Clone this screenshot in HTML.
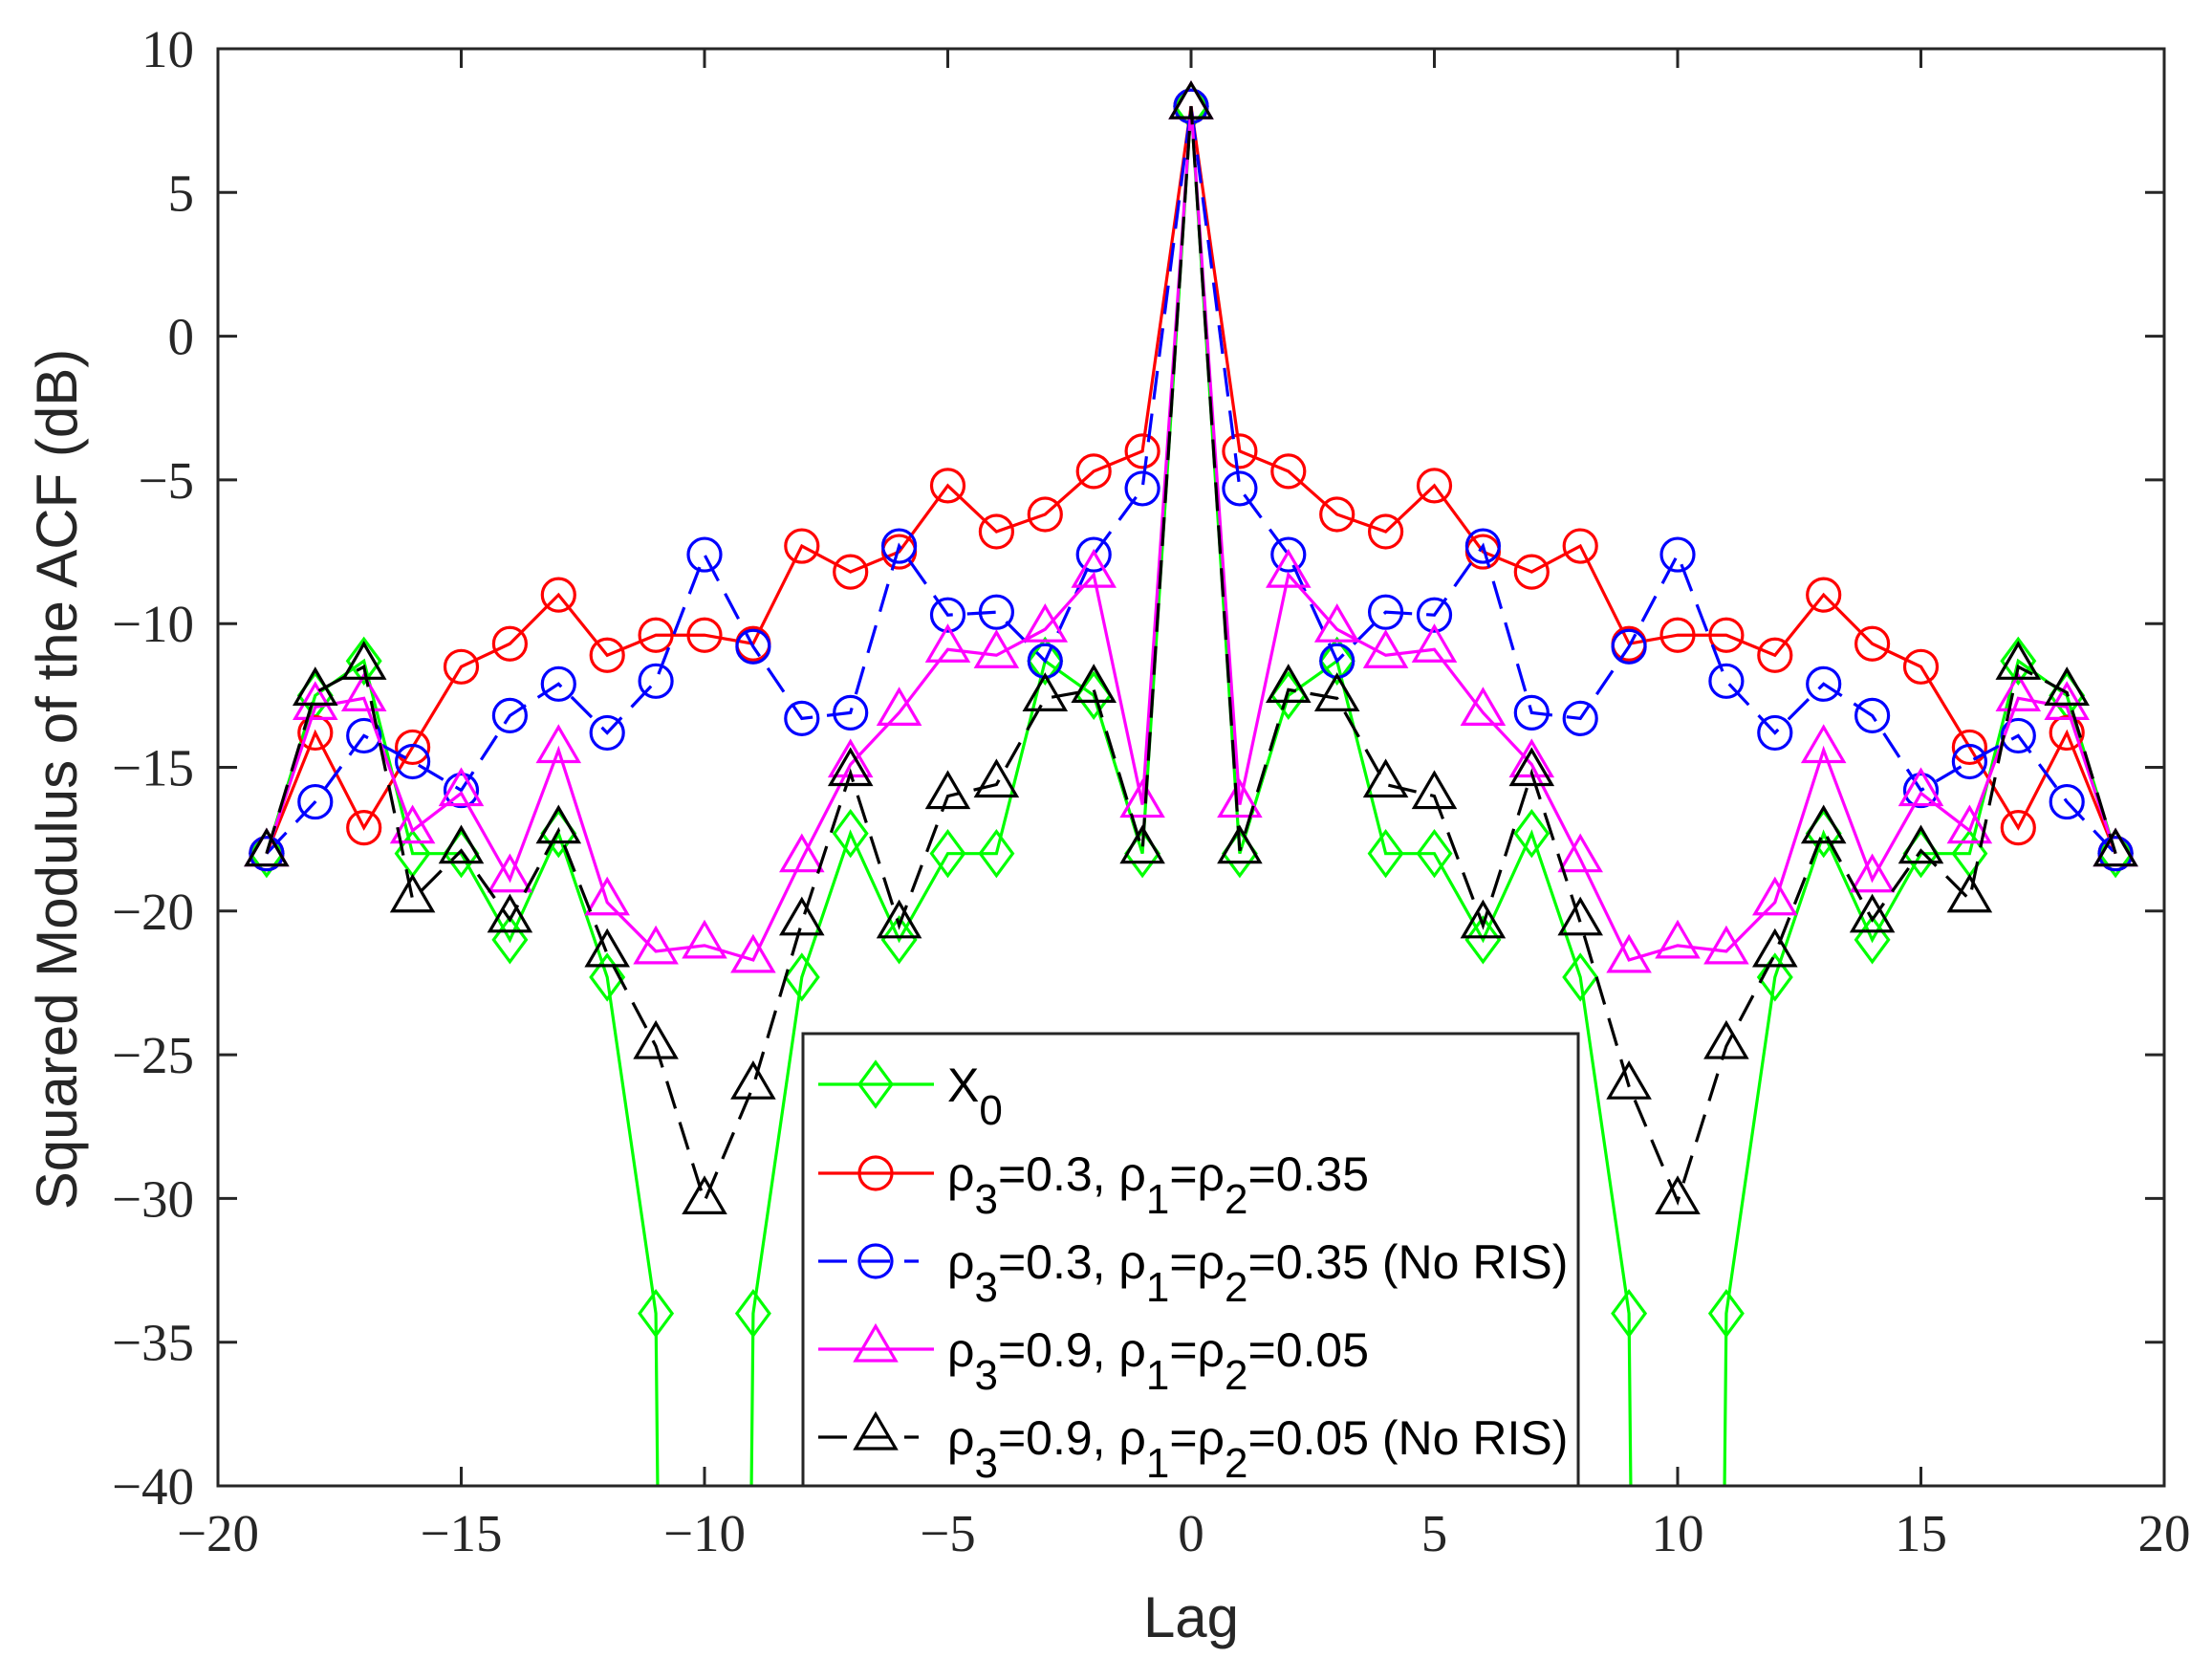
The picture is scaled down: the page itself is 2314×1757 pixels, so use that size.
<!DOCTYPE html>
<html><head><meta charset="utf-8"><style>html,body{margin:0;background:#fff;width:2314px;height:1757px;overflow:hidden}svg{display:block}</style></head>
<body>
<svg id="s" width="2314" height="1757" xmlns="http://www.w3.org/2000/svg"></svg>
<script>
const L=228,R=2264,T=51,B=1554;
const X=v=>L+(v+20)*(R-L)/40, Y=v=>T+(10-v)*(B-T)/50;
const G={
g:[8,-18,-12.5,-11.3,-18,-18,-21,-17.3,-22.3,-34,-200,-34,-22.3,-17.3,-21,-18,-18,-11.3,-12.5,-18],
r:[8,-4,-4.7,-6.2,-6.8,-5.2,-7.5,-8.2,-7.3,-10.7,-10.4,-10.4,-11.1,-9,-10.7,-11.5,-14.3,-17.1,-13.8,-18],
b:[8,-5.3,-7.6,-11.3,-9.6,-9.7,-7.3,-13.1,-13.3,-10.8,-7.6,-12,-13.8,-12.1,-13.2,-15.8,-14.8,-13.9,-16.2,-18],
m:[8,-16.3,-8.3,-10.2,-11.1,-10.9,-13.1,-14.9,-18.2,-21.7,-21.2,-21.4,-19.7,-14.4,-18.9,-15.9,-17.2,-12.6,-12.9,-18],
k:[8,-17.9,-12.3,-12.6,-15.6,-16,-20.5,-15.2,-20.4,-26.1,-30.1,-24.7,-21.5,-17.2,-20.3,-17.9,-19.6,-11.5,-12.4,-18]};
let h='<defs><clipPath id="c"><rect x="'+L+'" y="'+T+'" width="'+(R-L)+'" height="'+(B-T)+'"/></clipPath></defs>';
const ax='#262626';
for(let v=-20;v<=20;v+=5){const x=X(v);h+=`<line x1="${x}" y1="${B}" x2="${x}" y2="${B-20}" stroke="${ax}" stroke-width="3"/><line x1="${x}" y1="${T}" x2="${x}" y2="${T+20}" stroke="${ax}" stroke-width="3"/>`;
h+=`<text x="${x}" y="1622" font-family="Liberation Serif,serif" font-size="55" text-anchor="middle" fill="${ax}">${v<0?'−'+(-v):v}</text>`;}
for(let v=-40;v<=10;v+=5){const y=Y(v);h+=`<line x1="${L}" y1="${y}" x2="${L+20}" y2="${y}" stroke="${ax}" stroke-width="3"/><line x1="${R}" y1="${y}" x2="${R-20}" y2="${y}" stroke="${ax}" stroke-width="3"/>`;
h+=`<text x="203" y="${y+19}" font-family="Liberation Serif,serif" font-size="55" text-anchor="end" fill="${ax}">${v<0?'−'+(-v):v}</text>`;}
function mk(t,x,y,c){
 if(t=='d')return `<path d="M${x} ${y-23}L${x+17} ${y}L${x} ${y+23}L${x-17} ${y}Z" fill="none" stroke="${c}" stroke-width="3.2"/>`;
 if(t=='o')return `<circle cx="${x}" cy="${y}" r="17" fill="none" stroke="${c}" stroke-width="3.2"/>`;
 return `<path d="M${x} ${y-24}L${x+21} ${y+12}L${x-21} ${y+12}Z" fill="none" stroke="${c}" stroke-width="3.2"/>`;}
const S=[['g','#00ff00','d',0],['r','#ff0000','o',0],['b','#0000ff','o',1],['m','#ff00ff','t',0],['k','#000000','t',1]];
const lags=[];for(let i=-19;i<=19;i++)lags.push(i);
let body='';
for(const [k,c,t,d] of S){
 const p=lags.map(l=>[X(l),Y(G[k][Math.abs(l)])]);
 body+=`<polyline points="${p.map(q=>q.join(',')).join(' ')}" fill="none" stroke="${c}" stroke-width="3.2" ${d?'stroke-dasharray="30,15"':''}/>`;
 lags.forEach((l,i)=>{if(G[k][Math.abs(l)]>-100)body+=mk(t,p[i][0],p[i][1],c);});
}
h+=`<g clip-path="url(#c)">${body}</g>`;
h+=`<rect x="${L}" y="${T}" width="${R-L}" height="${B-T}" fill="none" stroke="${ax}" stroke-width="3"/>`;
h+=`<rect x="840" y="1081" width="811" height="473" fill="#fff" stroke="${ax}" stroke-width="3"/>`;
const sb=n=>`<tspan dy="24" font-size="44">${n}</tspan>`;
const labs=['X'+sb(0),
'ρ'+sb(3)+'<tspan dy="-24">=0.3, ρ</tspan>'+sb(1)+'<tspan dy="-24">=ρ</tspan>'+sb(2)+'<tspan dy="-24">=0.35</tspan>',
'ρ'+sb(3)+'<tspan dy="-24">=0.3, ρ</tspan>'+sb(1)+'<tspan dy="-24">=ρ</tspan>'+sb(2)+'<tspan dy="-24">=0.35 (No RIS)</tspan>',
'ρ'+sb(3)+'<tspan dy="-24">=0.9, ρ</tspan>'+sb(1)+'<tspan dy="-24">=ρ</tspan>'+sb(2)+'<tspan dy="-24">=0.05</tspan>',
'ρ'+sb(3)+'<tspan dy="-24">=0.9, ρ</tspan>'+sb(1)+'<tspan dy="-24">=ρ</tspan>'+sb(2)+'<tspan dy="-24">=0.05 (No RIS)</tspan>'];
const ly=[1134,1227,1319,1411,1503];
S.forEach(([k,c,t,d],i)=>{const y=ly[i];
 h+=`<line x1="856" y1="${y}" x2="${d?961:977}" y2="${y}" stroke="${c}" stroke-width="3.2" ${d?'stroke-dasharray="30,15"':''}/>`+mk(t,916,y,c);
 h+=`<text x="991" y="${y+18}" font-family="Liberation Sans,sans-serif" font-size="50" fill="#000">${labs[i]}</text>`;});
h+=`<text x="1246" y="1712" font-family="Liberation Sans,sans-serif" font-size="60" text-anchor="middle" fill="${ax}">Lag</text>`;
h+=`<text transform="translate(80,815) rotate(-90)" font-family="Liberation Sans,sans-serif" font-size="60" text-anchor="middle" fill="${ax}">Squared Modulus of the ACF (dB)</text>`;
document.getElementById('s').innerHTML=h;
</script>
</body></html>
